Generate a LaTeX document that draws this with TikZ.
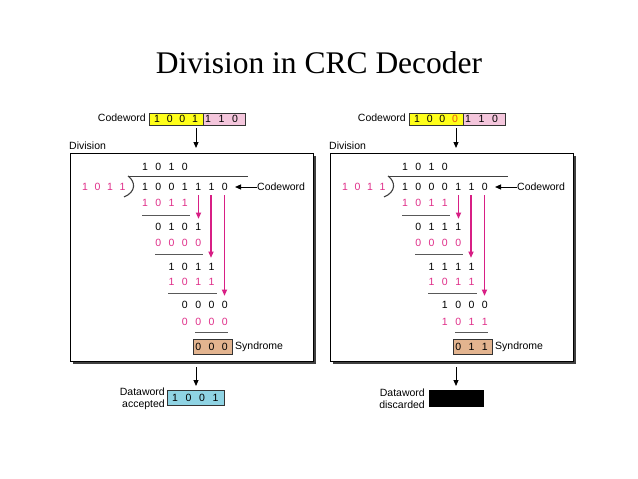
\documentclass[tikz,border=0pt]{standalone}
\usepackage{fontspec}
\setmainfont{Liberation Sans}
\newfontfamily\titlefont{Liberation Serif}
\usetikzlibrary{arrows.meta,shadows}
\definecolor{mag}{HTML}{E0308A}
\definecolor{magarr}{HTML}{D81F85}
\definecolor{yel}{HTML}{FFFF1A}
\definecolor{pnk}{HTML}{F4C6DC}
\definecolor{tanb}{HTML}{E3B48F}
\definecolor{blu}{HTML}{8FD3E3}
\definecolor{org}{HTML}{E65A10}
\newcommand\drow[6]{\foreach \d [count=\i from 0] in {#6} \node[dig,#5] (#1-\i) at ({#2+\i*#3},{-#4}) {\d};}
\begin{document}
\begin{tikzpicture}[x=1pt,y=1pt,
  dig/.style={inner sep=0pt,font=\fontsize{10.5}{12}\selectfont},
  pdig/.style={text=mag},
  txt/.style={inner sep=0pt,font=\fontsize{10.5}{12}\selectfont},
  cbox/.style={draw=black!80,line width=0.6pt,anchor=north west,inner sep=0pt},
  arr/.style={draw=black,line width=1pt,-{Triangle[length=6pt,width=5pt]}},
  parr/.style={draw=magarr,line width=1.6pt,-{Triangle[length=6.5pt,width=5pt]}},
  sub/.style={draw=black!65,line width=1pt},
  divbox/.style={draw=black,line width=0.8pt,fill=white,anchor=north west,inner sep=0pt,
    minimum width=243pt,minimum height=208pt,
    drop shadow={shadow xshift=2.5pt,shadow yshift=-2.5pt,fill=black!75,opacity=1}}]
\useasboundingbox (0,0) rectangle (638,-479);
\fill[white] (0,0) rectangle (638,-479);
\node[font=\titlefont\fontsize{31.5}{36}\selectfont,anchor=base,inner sep=0pt] (title) at (319,-73) {Division in CRC Decoder};

% ---------------- left panel ----------------
\begin{scope}[name prefix=L-]
\node[txt,anchor=east] (cwlab) at (146,-118) {Codeword};
\node[cbox,fill=yel,minimum width=54pt,minimum height=12pt] (cwy) at (149,-113) {};
\node[cbox,fill=pnk,minimum width=42pt,minimum height=12pt] (cwp) at (203,-113) {};
\drow{cy}{157}{12.7}{119}{}{1,0,0,1}
\drow{cp}{208}{13.5}{119}{}{1,1,0}
\coordinate (a1s) at (196,-128);
\coordinate (a1e) at (196,-148);
\draw[arr] (a1s) -- (a1e);
\node[txt,anchor=west] (divlab) at (69,-146) {Division};
\node[divbox] (div) at (70,-153) {};
\drow{q}{145}{13.3}{167}{}{1,0,1,0}
\drow{dd}{145}{13.3}{187}{}{1,0,0,1,1,1,0}
\drow{dv}{85}{12.5}{187}{pdig}{1,0,1,1}
\draw[line width=1pt,black!75] (128,-176) -- (248,-176);
\draw[line width=1.1pt,black!75] (128,-176) .. controls (136,-182) and (136,-192) .. (124,-197);
\node[txt,anchor=west] (cwlab2) at (257,-187) {Codeword};
\coordinate (cwtip) at (235,-187);
\draw[arr] (cwlab2.west) -- (cwtip);
\drow{r3}{145}{13.3}{203}{pdig}{1,0,1,1}
\draw[sub] (142,-215) -- (190,-215);
\drow{r4}{158.3}{13.3}{227}{}{0,1,0,1}
\drow{r5}{158.3}{13.3}{243}{pdig}{0,0,0,0}
\draw[sub] (155,-254) -- (203,-254);
\drow{r6}{171.6}{13.3}{267}{}{1,0,1,1}
\drow{r7}{171.6}{13.3}{282}{pdig}{1,0,1,1}
\draw[sub] (168,-293) -- (217,-293);
\drow{r8}{184.9}{13.3}{305}{}{0,0,0,0}
\drow{r9}{184.9}{13.3}{322}{pdig}{0,0,0,0}
\draw[sub] (195,-332) -- (228,-332);
\coordinate (p5s) at (198.5,-195); \coordinate (p5e) at (198.5,-219);
\coordinate (p6s) at (211,-195); \coordinate (p6e) at (211,-258);
\coordinate (p7s) at (224.5,-195); \coordinate (p7e) at (224.5,-296);
\draw[parr] (p5s) -- (p5e);
\draw[parr] (p6s) -- (p6e);
\draw[parr] (p7s) -- (p7e);
\node[cbox,fill=tanb,minimum width=39pt,minimum height=15pt] (syn) at (193,-339) {};
\drow{s}{198.2}{13.3}{347}{}{0,0,0}
\node[txt,anchor=west] (synlab) at (235,-347) {Syndrome};
\coordinate (a2s) at (196,-367);
\coordinate (a2e) at (196,-386);
\draw[arr] (a2s) -- (a2e);
\node[txt,anchor=east,align=right,font=\fontsize{10.5}{12}\selectfont] (dwlab) at (165,-398.5) {Dataword\\accepted};
\node[cbox,fill=blu,minimum width=57pt,minimum height=15pt] (dw) at (167,-390) {};
\drow{dwd}{175}{13.5}{397.5}{}{1,0,0,1}
\end{scope}

% ---------------- right panel ----------------
\begin{scope}[xshift=260pt,name prefix=R-]
\node[txt,anchor=east] (cwlab) at (146,-118) {Codeword};
\node[cbox,fill=yel,minimum width=54pt,minimum height=12pt] (cwy) at (149,-113) {};
\node[cbox,fill=pnk,minimum width=42pt,minimum height=12pt] (cwp) at (203,-113) {};
\drow{cy}{157}{12.7}{119}{}{1,0,0,{\textcolor{org}{0}}}
\drow{cp}{208}{13.5}{119}{}{1,1,0}
\coordinate (a1s) at (196,-128);
\coordinate (a1e) at (196,-148);
\draw[arr] (a1s) -- (a1e);
\node[txt,anchor=west] (divlab) at (69,-146) {Division};
\node[divbox] (div) at (70,-153) {};
\drow{q}{145}{13.3}{167}{}{1,0,1,0}
\drow{dd}{145}{13.3}{187}{}{1,0,0,0,1,1,0}
\drow{dv}{85}{12.5}{187}{pdig}{1,0,1,1}
\draw[line width=1pt,black!75] (128,-176) -- (248,-176);
\draw[line width=1.1pt,black!75] (128,-176) .. controls (136,-182) and (136,-192) .. (124,-197);
\node[txt,anchor=west] (cwlab2) at (257,-187) {Codeword};
\coordinate (cwtip) at (235,-187);
\draw[arr] (cwlab2.west) -- (cwtip);
\drow{r3}{145}{13.3}{203}{pdig}{1,0,1,1}
\draw[sub] (142,-215) -- (190,-215);
\drow{r4}{158.3}{13.3}{227}{}{0,1,1,1}
\drow{r5}{158.3}{13.3}{243}{pdig}{0,0,0,0}
\draw[sub] (155,-254) -- (203,-254);
\drow{r6}{171.6}{13.3}{267}{}{1,1,1,1}
\drow{r7}{171.6}{13.3}{282}{pdig}{1,0,1,1}
\draw[sub] (168,-293) -- (217,-293);
\drow{r8}{184.9}{13.3}{305}{}{1,0,0,0}
\drow{r9}{184.9}{13.3}{322}{pdig}{1,0,1,1}
\draw[sub] (195,-332) -- (228,-332);
\coordinate (p5s) at (198.5,-195); \coordinate (p5e) at (198.5,-219);
\coordinate (p6s) at (211,-195); \coordinate (p6e) at (211,-258);
\coordinate (p7s) at (224.5,-195); \coordinate (p7e) at (224.5,-296);
\draw[parr] (p5s) -- (p5e);
\draw[parr] (p6s) -- (p6e);
\draw[parr] (p7s) -- (p7e);
\node[cbox,fill=tanb,minimum width=39pt,minimum height=15pt] (syn) at (193,-339) {};
\drow{s}{198.2}{13.3}{347}{}{0,1,1}
\node[txt,anchor=west] (synlab) at (235,-347) {Syndrome};
\coordinate (a2s) at (196,-367);
\coordinate (a2e) at (196,-386);
\draw[arr] (a2s) -- (a2e);
\node[txt,anchor=east,align=right,font=\fontsize{10.5}{12}\selectfont] (dwlab) at (165,-398.5) {Dataword\\discarded};
\node[cbox,fill=black,draw=black,minimum width=54pt,minimum height=16pt] (dw) at (169,-390) {};
\end{scope}
\end{tikzpicture}
\end{document}
